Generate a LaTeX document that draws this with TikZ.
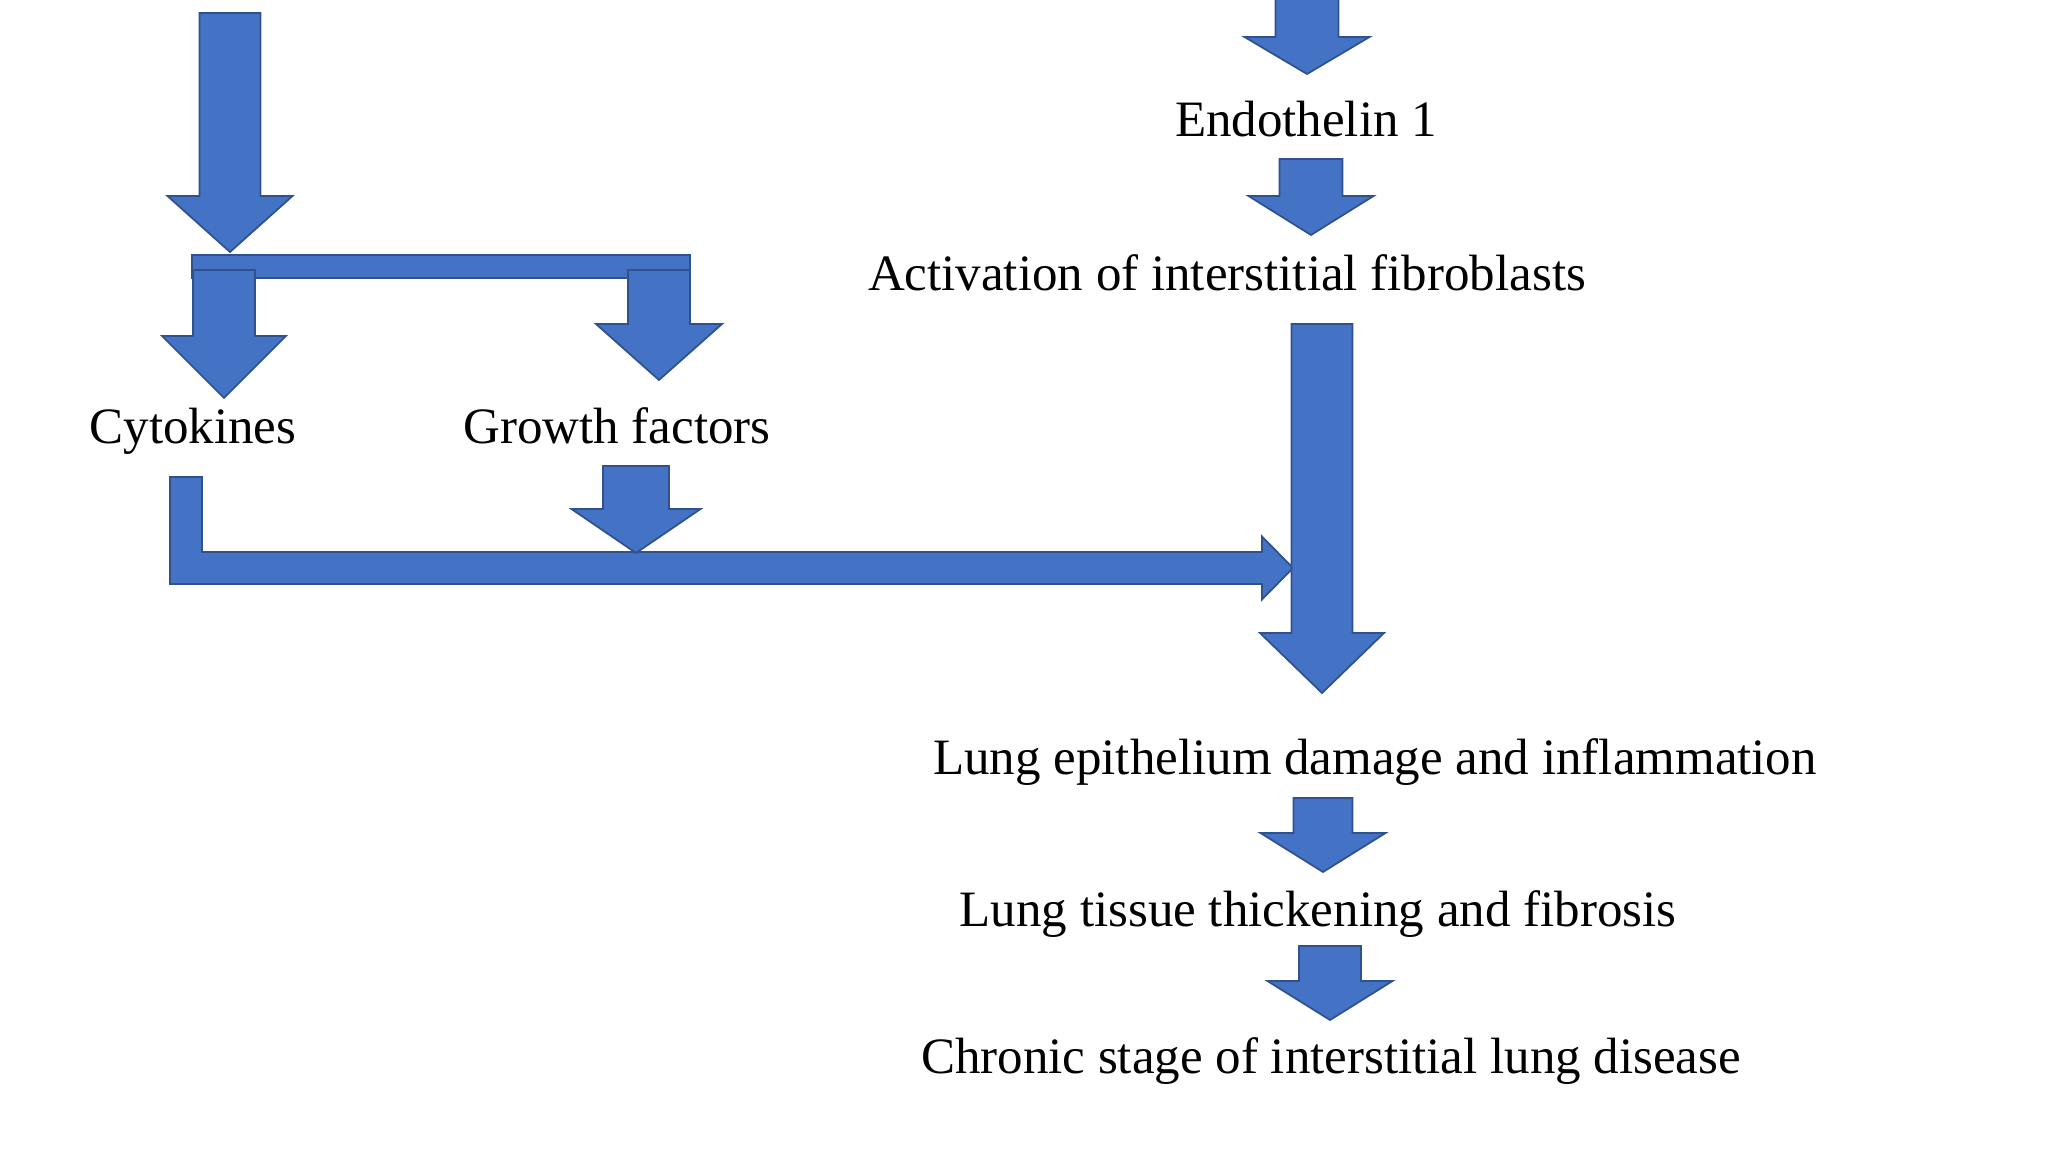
\documentclass[tikz,border=0pt]{standalone}
\usepackage{fontspec}
\setmainfont{Liberation Serif}
\usepackage{tikz}
\usetikzlibrary{calc,positioning}
\definecolor{arrowblue}{RGB}{68,114,196}
\definecolor{arrowedge}{RGB}{47,82,143}

% fat arrow pointing down: from, tip, half shaft, half head, head length
\newcommand{\fatdown}[5]{%
  \filldraw[blockarrow] let \p1=(#1), \p2=(#2) in
    (\x2-#3,\y1) -- (\x2+#3,\y1) -- (\x2+#3,\y2+#5) -- (\x2+#4,\y2+#5) -- (\x2,\y2)
    -- (\x2-#4,\y2+#5) -- (\x2-#3,\y2+#5) -- cycle;}

\begin{document}
\begin{tikzpicture}[
        x=0.01cm, y=-0.01cm,
        stage/.style={anchor=base, inner sep=0pt, font=\fontsize{14.5}{17}\selectfont},
        blockarrow/.style={fill=arrowblue, draw=arrowedge, line width=0.5pt, line join=miter}
    ]
        \useasboundingbox (0,0) rectangle (2048,1152);

        % Texts
        \node[stage] (cyto) at (193,444) {Cytokines};
        \node[stage] (growth) at (617,444) {Growth factors};
        \node[stage] (endo) at (1306,137) {Endothelin 1};
        \node[stage] (activ) at (1227,291) {Activation of interstitial fibroblasts};
        \node[stage] (epith) at (1375,774) {Lung epithelium damage and inflammation};
        \node[stage] (thick) at (1318,926) {Lung tissue thickening and fibrosis};
        \node[stage] (chronic) at (1331,1073) {Chronic stage of interstitial lung disease};

        % Arrow ends
        \coordinate (leftin) at (230,13);
        \coordinate (split) at (230,252);
        \coordinate (barL) at (192,255);
        \coordinate (barR) at (690,278);
        \coordinate (cytoin) at (224,270);
        \coordinate (cytotip) at (224,398);
        \coordinate (growthin) at (659,270);
        \coordinate (growthtip) at (659,380);
        \coordinate (gfout) at (636,466);
        \coordinate (gftip) at (636,553);
        \coordinate (cytoout) at (186,477);
        \coordinate (join) at (1293,568);
        \coordinate (endoin) at (1307,-5);
        \coordinate (endotip) at (1307,74);
        \coordinate (activin) at (1311,159);
        \coordinate (activtip) at (1311,235);
        \coordinate (bigin) at (1322,324);
        \coordinate (bigtip) at (1322,693);
        \coordinate (epithout) at (1323,798);
        \coordinate (epithtip) at (1323,872);
        \coordinate (thickout) at (1330,946);
        \coordinate (thicktip) at (1330,1020);

        % Left branch
        \fatdown{leftin}{split}{0.305cm}{0.625cm}{0.56cm}
        \filldraw[blockarrow] (barL) rectangle (barR);
        \fatdown{cytoin}{cytotip}{0.31cm}{0.62cm}{0.62cm}
        \fatdown{growthin}{growthtip}{0.31cm}{0.63cm}{0.56cm}

        % Joining arrow to the right
        \filldraw[blockarrow] let \p1=(cytoout), \p2=(join) in
            (\x1-0.16cm,\y1) -- (\x1+0.16cm,\y1) -- (\x1+0.16cm,\y2+0.16cm) -- (\x2-0.31cm,\y2+0.16cm)
            -- (\x2-0.31cm,\y2+0.315cm) -- (\x2,\y2) -- (\x2-0.31cm,\y2-0.315cm) -- (\x2-0.31cm,\y2-0.16cm)
            -- (\x1-0.16cm,\y2-0.16cm) -- cycle;
        \fatdown{gfout}{gftip}{0.33cm}{0.645cm}{0.44cm}

        % Right column
        \fatdown{endoin}{endotip}{0.315cm}{0.625cm}{0.37cm}
        \fatdown{activin}{activtip}{0.315cm}{0.625cm}{0.39cm}
        \fatdown{bigin}{bigtip}{0.305cm}{0.62cm}{0.60cm}
        \fatdown{epithout}{epithtip}{0.295cm}{0.625cm}{0.39cm}
        \fatdown{thickout}{thicktip}{0.31cm}{0.625cm}{0.39cm}
    \end{tikzpicture}
\end{document}
